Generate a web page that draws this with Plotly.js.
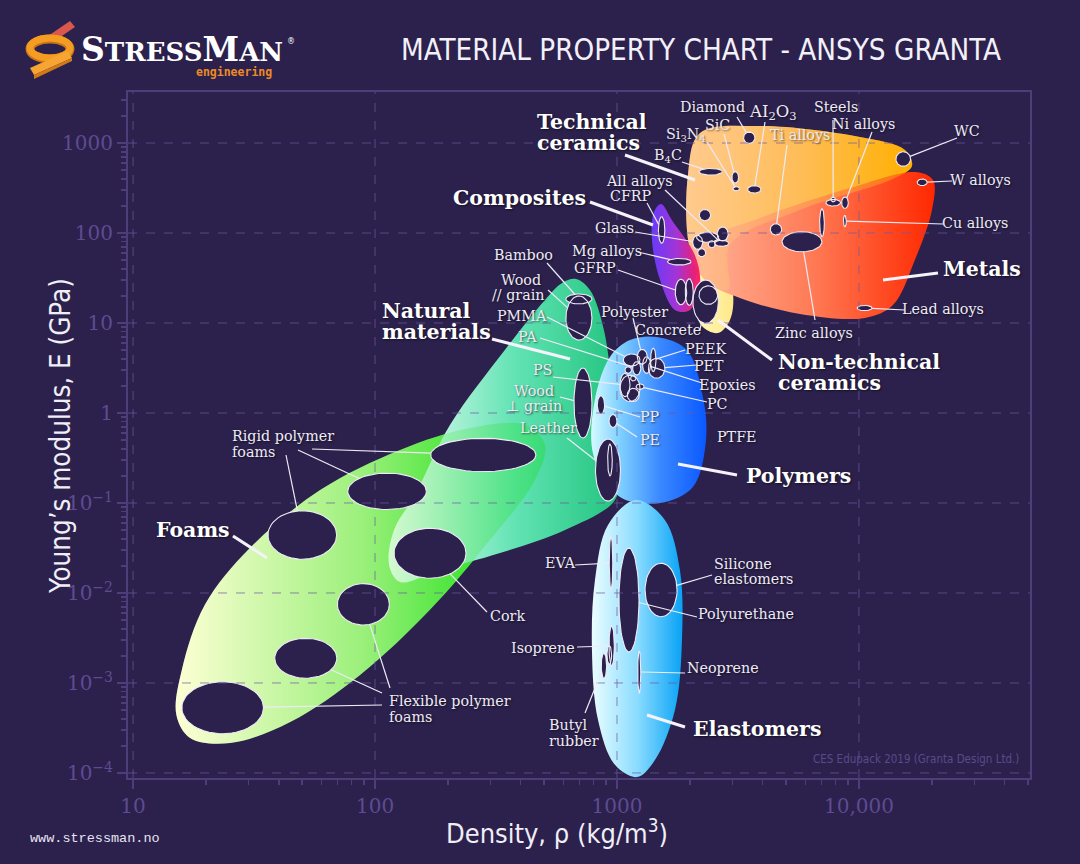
<!DOCTYPE html>
<html><head><meta charset="utf-8">
<script src="https://cdn.plot.ly/plotly-3.0.1.min.js"></script>
<style>html,body{margin:0;padding:0;background:#2b214c;}</style>
</head><body>
<div id="chart" style="width:1080px;height:864px;"></div>
<script>
// ---------------- DATA ----------------
// Material bubbles: density range (kg/m3) and Young's modulus range (GPa)
const materials = ['Flexible foam A','Flexible foam B','Flexible foam C','Rigid foam A','Rigid foam B','Rigid foam C','Cork',
 'Wood // grain','Bamboo','Wood ⊥ grain','Leather','Leather (thin)',
 'PP','PE','ABS','PET','Epoxies','Polyester','PEEK','PMMA','PA','PS','PC','Ionomer','PU rigid','CA',
 'EVA','Polyurethane','Silicone elastomers','Isoprene','Natural rubber','Butyl rubber','Neoprene',
 'CFRP','GFRP A','GFRP B','Mg alloys','Concrete','Stone','Glass','Al alloys','Alloy b','Alloy c','Alloy d','Be alloys','Glass ceramic',
 'Diamond','B4C','SiC','Si3N4','Al2O3','Ti alloys','Zinc alloys','Cast iron','Steels','Steels core','Ni alloys','Cu alloys','WC','W alloys','Lead alloys'];
const rhoLo = [15.9,38.5,69.9,36.1,77.1,169.7,119.8, 615,615,664,815,915,
 829,927,1029,1349,1276,1213,1377,1062,1161,1029,1103,1079,1138,1199,
 929,1019,1306,927,909,861,1218, 1483,1741,1915,1618,2060,2183,2055,2133,2594,2533,2383,2188,2156,
 3336,2183,2985,3013,3467,4300,4809,6880,7305,7656,8482,8630,14220,17420,9840];
const rhoHi = [34.6,69.5,114.6,69.4,163,462.6,237.7, 788,788,788,1034,956,
 889,1000,1245,1577,1377,1334,1449,1245,1254,1132,1236,1148,1199,1294,
 961,1233,1771,975,950,906,1254, 1577,1941,2066,2024,2625,2605,2260,2632,2881,2895,2547,2438,2326,
 3716,2726,3181,3211,3936,4793,7034,7195,8395,8000,9036,8866,16340,19140,11320];
const ELo = [2.73e-4,1.13e-3,4.41e-3,0.0237,0.0845,0.223,0.0146, 6.47,16.3,0.527,0.105,0.2,
 0.967,0.69,1.34,2.43,2.76,3.5,2.88,3.33,2.64,1.52,1.34,2.76,2.27,1.83,
 0.0109,2.21e-3,5.45e-3,1.55e-3,1.61e-3,1.12e-3,7.74e-4, 76.9,15.96,15.7,44.1,9.9,16.1,65.9,78.8,81.5,71.1,68.5,137,54.6,
 990,441,359,295,278,95,61.9,91,199.5,222,187.5,117.5,551,336,13.7];
const EHi = [1.03e-3,3.14e-3,0.0127,0.082,0.215,0.524,0.0524, 19.95,21.0,3.16,0.514,0.452,
 1.556,0.962,2.64,4.06,4.22,5.09,5.24,4.53,3.72,2.76,1.88,3.27,2.6,2.1,
 0.0427,0.0316,0.0214,4.3e-3,2.6e-3,2.14e-3,2.27e-3, 151.7,30.6,31.0,52.2,30.0,25.9,94.2,101.9,116.6,83.0,81.9,183,66.9,
 1325,522,481,327,336,127,103.4,186,236,250,251,157,800,398,15.7];

// Family envelopes (outline vertices: density kg/m3, modulus GPa)
const foamsRho = [30.4,59.3,126.9,247,417,504,458,298.5,168.7,86.7,44.6,25.2,17.2,15.1,15.9,19.8];
const foamsE   = [0.0316,0.139,0.388,0.681,0.735,0.441,0.18,0.0388,6.5e-3,1.23e-3,3.69e-4,2.15e-4,2.45e-4,4.4e-4,1.39e-3,7.4e-3];
const naturalRho = [344,504,593,677,773,883,962,1009,981,610,328.6,185.6,126.9,114.3,119.8,146.2,204];
const naturalE   = [5.01,18.0,27.8,30.8,23.3,8.36,1.395,0.233,0.108,0.0501,0.0278,0.018,0.01325,0.0205,0.0501,0.1227,0.735];
const polymersRho = [803,935,1132,1462,1945,2265,2333,2060,1507,1029,803];
const polymersE   = [1.227,4.19,6.47,6.99,5.01,1.507,0.501,0.1506,0.1,0.1166,0.3245];
const elastomersRho = [788,811,918,1198,1577,1820,1856,1736,1435,1209,981,835];
const elastomersE   = [2.33e-3,0.0139,0.057,0.108,0.0648,0.018,3.0e-3,5.01e-4,1.39e-4,9.0e-5,1.23e-4,3.88e-4];
const compositesRho = [1395,1422,1521,1687,2098,2204,2003,1736,1507];
const compositesE   = [83.6,171,210,139,57,26.4,13.95,13.95,30.0];
const metalsRho = [5702,3221,2312,2042,3899,9183,17020,20220,20030,17020,13820,10590];
const metalsE   = [12.6,18.96,30.0,68.1,146.8,316,476,388,180,50.1,15.85,11.4];
const techCerRho = [3899,10090,15490,16560,14090,5702,2931,2875,2312,2003,1965,2204];
const techCerE   = [1545,1166,836,555,408,180,73.6,23.3,30.0,64.7,441,1291];
const nonTechRho = [2080,2204,2716,3013,2931,2613,2245];
const nonTechE   = [18.0,40.8,47.6,22.1,10.8,7.74,9.26];

// Axis ticks
const xTickVals = [10,100,1000,10000];
const xTickText = ['10','100','1000','10,000'];
const yTickVals = [1e-4,1e-3,1e-2,1e-1,1,10,100,1000];
const yTickText = ['10<sup>−4</sup>','10<sup>−3</sup>','10<sup>−2</sup>','10<sup>−1</sup>','1','10','100','1000'];

// ---------------- LAYOUT CONSTANTS ----------------
const W=1080,H=864,ML=128,MR=50,MT=92,MB=86;
const X0=0.979,X1=4.707,Y0=-4.056,Y1=3.567;
const PW=W-ML-MR, PH=H-MT-MB;
const LX = px => X0 + (px-ML)/PW*(X1-X0);
const LY = py => Y1 - (py-MT)/PH*(Y1-Y0);
const PXp = px => (px-ML)/PW;
const PYp = py => (H-MB-py)/PH;

const BG='#2b214c', AX='#4d3d78', TICKC='#5f4b92', LINEC='#eeebf6';
const SERIF="'DejaVu Serif',serif";
const SANSC="'DejaVu Sans Condensed','DejaVu Sans',Roboto,sans-serif";
const SH='1px 1px 2px rgba(0,0,0,0.55)';

// ---------------- TRACES ----------------
function envelope(rho, E, scale, opacity){
  const x = rho.concat([rho[0]]), y = E.concat([E[0]]);
  return {type:'scatter', mode:'lines', x:x, y:y, fill:'toself',
    line:{width:0, shape:'spline', smoothing:1, color:'rgba(0,0,0,0)'},
    fillgradient:{type:'horizontal', colorscale:scale},
    opacity:opacity, hoverinfo:'skip', showlegend:false};
}
const foamScale=[[0,'#fdffd4'],[0.5,'#9cf07c'],[1,'#00dc00']];
const natScale=[[0,'#f4fff9'],[0.55,'#62e3b4'],[1,'#22c47f']];
const polyScale=[[0,'#d4fbff'],[0.25,'#7fd0ff'],[0.6,'#3a88ff'],[1,'#0a58ff']];
const elaScale=[[0,'#eafdff'],[0.5,'#8adcff'],[1,'#08a2f6']];
const compScale=[[0,'#6a3cff'],[0.5,'#a535dc'],[1,'#ff1c5c']];
const metScale=[[0,'#ffb59b'],[0.5,'#ff7a55'],[1,'#ff2800']];
const cerScale=[[0,'#ffca8e'],[0.5,'#ffbd58'],[1,'#ffb000']];
const ntcScale=[[0,'#fff9bc'],[1,'#ffe88a']];

const traces = [
  envelope(foamsRho, foamsE, foamScale, 1),
  envelope(naturalRho, naturalE, natScale, 1),
  envelope(foamsRho, foamsE, foamScale, 0.28),
  envelope(polymersRho, polymersE, polyScale, 1),
  envelope(elastomersRho, elastomersE, elaScale, 1),
  envelope(nonTechRho, nonTechE, ntcScale, 1),
  envelope(techCerRho, techCerE, cerScale, 1),
  envelope(metalsRho, metalsE, metScale, 1),
  envelope(techCerRho, techCerE, cerScale, 0.45),
  envelope(compositesRho, compositesE, compScale, 0.97)
];

// material bubbles (ellipses in log space), all in one trace
const L10 = Math.log10;
function geom(i){
  const cx=(L10(rhoLo[i])+L10(rhoHi[i]))/2, a=(L10(rhoHi[i])-L10(rhoLo[i]))/2;
  const cy=(L10(ELo[i])+L10(EHi[i]))/2, b=(L10(EHi[i])-L10(ELo[i]))/2;
  return {cx,cy,a,b};
}
const ex=[], ey=[];
materials.forEach((m,i)=>{
  const g=geom(i); const N=56;
  for(let k=0;k<=N;k++){const t=2*Math.PI*k/N; ex.push(Math.pow(10,g.cx+g.a*Math.cos(t))); ey.push(Math.pow(10,g.cy+g.b*Math.sin(t)));}
  ex.push(null); ey.push(null);
});
traces.push({type:'scatter',mode:'lines',x:ex,y:ey,fill:'toself',fillcolor:BG,
  line:{color:LINEC,width:1.1},hoverinfo:'skip',showlegend:false,connectgaps:false});

// ---------------- ANNOTATIONS & LEADER LINES ----------------
const ann=[], shapes=[];
function txt(t,px,py,o){o=o||{};
  ann.push({text:t,x:LX(px),y:LY(py),xref:'x',yref:'y',showarrow:false,
    xanchor:o.anchor||'center',yanchor:'middle',
    font:{family:o.family||SERIF,size:o.size||14.3,color:o.color||'#eeeaf6',weight:o.weight||'normal',shadow:SH}});
}
function lead(mat,tx,ty){
  const g=geom(materials.indexOf(mat));
  const tlx=LX(tx), tly=LY(ty);
  const th=Math.atan2((tly-g.cy)/g.b,(tlx-g.cx)/g.a);
  shapes.push({type:'line',xref:'x',yref:'y',layer:'above',
    x0:Math.pow(10,g.cx+g.a*Math.cos(th)),y0:Math.pow(10,g.cy+g.b*Math.sin(th)),
    x1:Math.pow(10,tlx),y1:Math.pow(10,tly),line:{color:LINEC,width:1.2}});
}
function flead(tx,ty,hx,hy){
  shapes.push({type:'line',xref:'x',yref:'y',layer:'above',
    x0:Math.pow(10,LX(hx)),y0:Math.pow(10,LY(hy)),x1:Math.pow(10,LX(tx)),y1:Math.pow(10,LY(ty)),
    line:{color:'#f4f2fa',width:3}});
}

// grid lines as shapes above fills
xTickVals.forEach(v=>shapes.push({type:'line',xref:'x',yref:'paper',x0:v,x1:v,y0:0,y1:1,layer:'above',
  line:{color:'rgba(110,90,160,0.7)',width:1,dash:'dash'}}));
yTickVals.forEach(v=>shapes.push({type:'line',xref:'paper',yref:'y',x0:0,x1:1,y0:v,y1:v,layer:'above',
  line:{color:'rgba(110,90,160,0.7)',width:1,dash:'dash'}}));

// material labels
[['Diamond',712,107],['SiC',717,125],['Si<sub>3</sub>N<sub>4</sub>',686,135],['B<sub>4</sub>C',668,156],
 ['Ti alloys',800,135],['Steels',836,107],['Ni alloys',863,124],['WC',967,131],['W alloys',980,180],
 ['Cu alloys',975,223],['Lead alloys',943,309],['Zinc alloys',814,333],['All alloys',639,181],['CFRP',631,196],
 ['Glass',614,228],['Mg alloys',607,251],['GFRP',595,268],['Bamboo',523,255],['Wood',521,280],['// grain',518,295],
 ['PMMA',522,316],['PA',527,337],['PS',542,370],['Wood',534,391],['⊥ grain',534,406],['Leather',548,428],
 ['Polyester',634,312],['Concrete',668,330],['PEEK',705,349],['PET',709,366],['Epoxies',727,385],['PC',717,404],
 ['PP',650,417],['PE',650,440],['PTFE',737,437],['Cork',507,616],['EVA',560,563],['Isoprene',543,648],
 ['Polyurethane',746,614],['Neoprene',723,668]
].forEach(r=>txt(r[0],r[1],r[2]));
txt('AI<sub>2</sub>O<sub>3</sub>',773,112,{size:16.5});
txt('Rigid polymer',230,436,{anchor:'left'}); txt('foams',230,452,{anchor:'left'});
txt('Flexible polymer',387,701,{anchor:'left'}); txt('foams',387,717,{anchor:'left'});
txt('Butyl',547,725,{anchor:'left'}); txt('rubber',547,741,{anchor:'left'});
txt('Silicone',712,564,{anchor:'left'}); txt('elastomers',712,579,{anchor:'left'});

// family labels
const F={size:20.5,weight:'bold',color:'#ffffff'};
const FL=Object.assign({anchor:'left'},F);
txt('Technical',535,122,FL); txt('ceramics',535,143,FL);
txt('Composites',519,198,F);
txt('Natural',380,311,FL); txt('materials',380,332,FL);
txt('Foams',193,530,F); txt('Polymers',798,476,F); txt('Elastomers',757,729,F); txt('Metals',982,269,F);
txt('Non-technical',776,362,FL); txt('ceramics',776,383,FL);

// material leader lines
[['Diamond',737,117],['Al2O3',765,122],['SiC',724,134],['Si3N4',707,142],['B4C',682,162],['Ti alloys',787,145],
 ['Steels core',833,120],['Ni alloys',872,132],['WC',957,138],['W alloys',952,181],['Cu alloys',943,224],
 ['Lead alloys',905,310],['Zinc alloys',815,320],['Alloy c',665,190],['CFRP',647,203],['Glass',635,232],
 ['Mg alloys',638,252],['GFRP A',618,270],['Bamboo',547,263],['Wood // grain',548,290],['PMMA',547,317],
 ['PA',540,338],['PS',553,377],['Wood ⊥ grain',560,397],['Leather',567,438],['Polyester',633,318],
 ['Concrete',700,330],['PEEK',685,350],['PET',697,365],['Epoxies',702,383],['CA',707,402],['PP',640,417],
 ['PE',637,437],['Rigid foam A',286,455],['Rigid foam B',298,450],['Rigid foam C',312,449],['Cork',487,612],
 ['Flexible foam A',382,705],['Flexible foam B',382,693],['Flexible foam C',390,688],['EVA',575,565],
 ['Isoprene',577,647],['Butyl rubber',585,713],['Silicone elastomers',712,575],['Polyurethane',697,617],['Neoprene',685,673]
].forEach(r=>lead(r[0],r[1],r[2]));

// family leader lines
flead(625,155,695,180); flead(590,202,653,225); flead(492,339,570,359); flead(233,536,267,558);
flead(737,475,678,464); flead(685,727,647,715); flead(938,273,883,280); flead(772,360,718,320);

// axis titles, credits, footer, logo text
ann.push({text:'Density, ρ (kg/m<sup>3</sup>)',x:PXp(557),y:PYp(831),xref:'paper',yref:'paper',showarrow:false,
  xanchor:'center',yanchor:'middle',font:{family:SANSC,size:27,color:'#f0eef6'}});
ann.push({text:'Young’s modulus, E (GPa)',x:PXp(60),y:PYp(436),xref:'paper',yref:'paper',showarrow:false,textangle:-90,
  xanchor:'center',yanchor:'middle',font:{family:SANSC,size:27.5,color:'#f0eef6'}});
ann.push({text:'CES Edupack 2019 (Granta Design Ltd.)',x:LX(1021),y:LY(759),xref:'x',yref:'y',showarrow:false,
  xanchor:'right',yanchor:'middle',font:{family:SANSC,size:11.5,color:'#5a4a8a'}});
ann.push({text:'www.stressman.no',x:PXp(28),y:PYp(838),xref:'paper',yref:'paper',showarrow:false,
  xanchor:'left',yanchor:'middle',font:{family:"'Liberation Mono','DejaVu Sans Mono',monospace",size:13.5,color:'#e8e4f2'}});
ann.push({text:'<b>S<span style="font-size:26px">TRESS</span>M<span style="font-size:26px">AN</span></b>',
  x:PXp(79),y:PYp(50),xref:'paper',yref:'paper',showarrow:false,xanchor:'left',yanchor:'middle',
  font:{family:"'DejaVu Serif'",size:33,color:'#ffffff'}});
ann.push({text:'®',x:PXp(291),y:PYp(42),xref:'paper',yref:'paper',showarrow:false,xanchor:'center',yanchor:'middle',
  font:{family:"'DejaVu Sans'",size:8,color:'#ffffff'}});
ann.push({text:'<b>engineering</b>',x:PXp(234),y:PYp(72),xref:'paper',yref:'paper',showarrow:false,xanchor:'center',yanchor:'middle',
  font:{family:"'DejaVu Sans Mono',monospace",size:11.5,color:'#ec8a26'}});

// logo icon
const svg='<svg xmlns="http://www.w3.org/2000/svg" width="56" height="62" viewBox="0 0 56 62">'+
 '<polygon points="24,18 46,3 51,9 29,24" fill="#d9574c"/>'+
 '<ellipse cx="26" cy="31" rx="20" ry="10" fill="none" stroke="#c8741a" stroke-width="9"/>'+
 '<ellipse cx="26" cy="30" rx="20" ry="10" fill="none" stroke="#f59c22" stroke-width="7"/>'+
 '<polygon points="6,50 44,33 48,40 10,57" fill="#f7a432"/>'+
 '<polygon points="10,57 48,40 48,43 10,61" fill="#d07a18"/></svg>';

const xMinor=[], yMinor=[];
for(let d=1;d<=4;d++) for(let k=2;k<=9;k++) xMinor.push(k*Math.pow(10,d));
for(let d=-4;d<=3;d++) for(let k=2;k<=9;k++) yMinor.push(k*Math.pow(10,d));

const layout={
  width:W,height:H,margin:{l:ML,r:MR,t:MT,b:MB},
  paper_bgcolor:BG,plot_bgcolor:BG,showlegend:false,hovermode:false,
  title:{text:'MATERIAL PROPERTY CHART - ANSYS GRANTA',x:701/W,xref:'container',xanchor:'center',
    y:1-50/H,yref:'container',yanchor:'middle',font:{family:SANSC,size:29.3,color:'#f2f0f8'}},
  xaxis:{type:'log',range:[X0,X1],showline:true,mirror:true,linecolor:AX,linewidth:2,
    ticks:'outside',ticklen:9,tickwidth:1.5,tickcolor:AX,tickmode:'array',tickvals:xTickVals,ticktext:xTickText,
    tickfont:{family:SERIF,size:20,color:TICKC},showgrid:false,zeroline:false,
    minor:{tickmode:'array',tickvals:xMinor,ticks:'outside',ticklen:5,tickcolor:AX,showgrid:false}},
  yaxis:{type:'log',range:[Y0,Y1],showline:true,mirror:true,linecolor:AX,linewidth:2,
    ticks:'outside',ticklen:9,tickwidth:1.5,tickcolor:AX,tickmode:'array',tickvals:yTickVals,ticktext:yTickText,
    tickfont:{family:SERIF,size:20,color:TICKC},showgrid:false,zeroline:false,
    minor:{tickmode:'array',tickvals:yMinor,ticks:'outside',ticklen:5,tickcolor:AX,showgrid:false}},
  annotations:ann, shapes:shapes,
  images:[{source:'data:image/svg+xml;charset=utf-8,'+encodeURIComponent(svg),xref:'paper',yref:'paper',
    x:PXp(24),y:PYp(18),sizex:56/PW,sizey:62/PH,xanchor:'left',yanchor:'top',sizing:'stretch',layer:'above'}]
};
Plotly.newPlot('chart',traces,layout,{displayModeBar:false,staticPlot:true});
</script>
</body></html>
